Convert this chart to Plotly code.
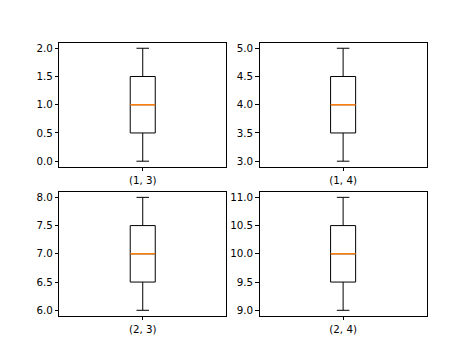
import numpy as np
import plotly.graph_objects as go

labels = ["(1, 3)", "(1, 4)", "(2, 3)", "(2, 4)"]
values_13 = [0, 1, 2]
values_14 = [3, 4, 5]
values_23 = [6, 7, 8]
values_24 = [9, 10, 11]
all_values = [values_13, values_14, values_23, values_24]

W, H = 474, 355
left, right, bottom, top = 0.125, 0.9, 0.11, 0.88
wsp, hsp = 0.2, 0.2
aw = (right - left) / (2 + wsp)
ah = (top - bottom) / (2 + hsp)
xdoms = [[left, left + aw], [right - aw, right]]
ydoms = [[top - ah, top], [bottom, bottom + ah]]

fig = go.Figure()
font = dict(family="DejaVu Sans", size=10.3, color="black")
box_w = 0.15

for i, (lab, vals) in enumerate(zip(labels, all_values)):
    r, c = divmod(i, 2)
    n = i + 1
    xa = "x" if n == 1 else f"x{n}"
    ya = "y" if n == 1 else f"y{n}"
    v = np.array(vals, dtype=float)
    q1, med, q3 = np.percentile(v, [25, 50, 75])
    lo, hi = v.min(), v.max()
    fig.add_trace(go.Box(
        x=[1], q1=[q1], median=[med], q3=[q3], lowerfence=[lo], upperfence=[hi],
        width=box_w, whiskerwidth=0.5, boxpoints=False,
        line=dict(color="black", width=1), fillcolor="rgba(0,0,0,0)",
        xaxis=xa, yaxis=ya, showlegend=False, hoverinfo="skip"))
    fig.add_trace(go.Scatter(
        x=[1 - box_w / 2, 1 + box_w / 2], y=[med, med], mode="lines",
        line=dict(color="#ff7f0e", width=1.5), xaxis=xa, yaxis=ya,
        showlegend=False, hoverinfo="skip"))
    span = hi - lo
    axis_common = dict(showline=True, mirror=True, linecolor="black", linewidth=0.8,
                       showgrid=False, zeroline=False, ticks="outside", ticklen=3.5,
                       tickwidth=0.8, tickcolor="black", tickfont=font)
    fig.layout[("xaxis" if n == 1 else f"xaxis{n}")] = dict(
        domain=xdoms[c], anchor=ya, range=[0.5, 1.5], tickvals=[1], ticktext=[lab],
        **axis_common)
    fig.layout[("yaxis" if n == 1 else f"yaxis{n}")] = dict(
        domain=ydoms[r], anchor=xa, range=[lo - 0.05 * span, hi + 0.05 * span],
        dtick=0.5, tickformat=".1f", **axis_common)

fig.update_layout(width=W, height=H, margin=dict(l=0, r=0, t=0, b=0),
                  paper_bgcolor="white", plot_bgcolor="white", font=font)
fig.write_html("out.html", config={"displayModeBar": False},
               post_script="document.body.style.margin='0px';")
